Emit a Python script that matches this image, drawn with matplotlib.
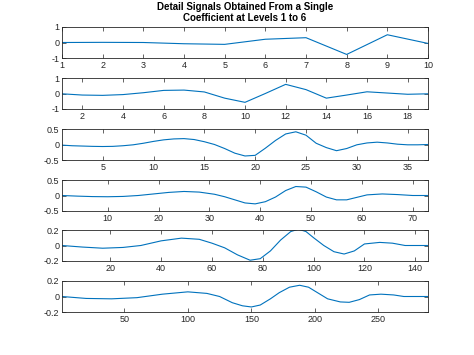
import matplotlib
matplotlib.use("Agg")
import matplotlib.pyplot as plt

# уровень 1 и 2 - все отсчёты
d1_y = [0.0, 0.01, 0.0, -0.08, -0.12, 0.21, 0.31, -0.77, 0.5, -0.06]
d2_y = [-0.02, -0.1, -0.12, -0.07, 0.05, 0.2, 0.22, 0.1, -0.3, -0.57,
        0.0, 0.59, 0.25, -0.3, -0.1, 0.11, 0.03, -0.05, -0.02]
# уровень 3 - все 37 отсчётов
d3_y = [-0.02, -0.04, -0.05, -0.06, -0.065, -0.06, -0.04, -0.01, 0.04, 0.1,
        0.15, 0.18, 0.19, 0.16, 0.09, 0.0, -0.13, -0.28, -0.37, -0.35,
        -0.12, 0.13, 0.34, 0.41, 0.3, 0.04, -0.1, -0.2, -0.13, -0.01,
        0.05, 0.075, 0.05, 0.01, -0.01, -0.01, 0.0]
# уровни 4-6 - опорные точки
d4_x = [1, 4, 7, 10, 13, 16, 19, 22, 25, 28, 31, 33, 35, 37, 39, 41, 43,
        45, 47, 49, 51, 53, 55, 57, 59, 61, 64, 67, 70, 73]
d4_y = [0.0, -0.02, -0.035, -0.04, -0.03, 0.0, 0.05, 0.1, 0.13, 0.11, 0.04,
        -0.04, -0.14, -0.24, -0.27, -0.2, -0.05, 0.16, 0.29, 0.27, 0.12, -0.05,
        -0.14, -0.14, -0.06, 0.02, 0.05, 0.03, 0.0, 0.0]
d5_x = [1, 9, 17, 25, 32, 40, 48, 55, 60, 65, 70, 75, 79, 83, 87, 91, 94,
        97, 100, 104, 108, 112, 116, 120, 126, 131, 136, 145]
d5_y = [0.0, -0.02, -0.035, -0.025, 0.0, 0.06, 0.095, 0.08, 0.03, -0.03,
        -0.12, -0.19, -0.17, -0.07, 0.07, 0.18, 0.21, 0.18, 0.1, 0.0, -0.08,
        -0.11, -0.07, 0.02, 0.04, 0.03, 0.0, 0.0]
d6_x = [1, 20, 40, 60, 80, 100, 115, 125, 135, 143, 150, 157, 165, 172, 180,
        188, 195, 203, 210, 220, 227, 235, 243, 252, 262, 270, 289]
d6_y = [0.0, -0.025, -0.03, -0.015, 0.03, 0.06, 0.04, 0.0, -0.08, -0.12,
        -0.135, -0.11, -0.03, 0.05, 0.12, 0.145, 0.12, 0.04, -0.03, -0.07,
        -0.075, -0.04, 0.02, 0.03, 0.02, 0.0, 0.0]

xs = [list(range(1, 11)), list(range(1, 20)), list(range(1, 38)), d4_x, d5_x, d6_x]
ys = [d1_y, d2_y, d3_y, d4_y, d5_y, d6_y]
xlims = [(1, 10), (1, 19), (1, 37), (1, 73), (1, 145), (1, 289)]
ylims = [(-1, 1), (-1, 1), (-0.5, 0.5), (-0.5, 0.5), (-0.2, 0.2), (-0.2, 0.2)]
xticks = [range(1, 11), range(2, 19, 2), range(5, 36, 5), range(10, 71, 10),
          range(20, 141, 20), range(50, 251, 50)]
yticks = [[-1, 0, 1], [-1, 0, 1], [-0.5, 0, 0.5], [-0.5, 0, 0.5],
          [-0.2, 0, 0.2], [-0.2, 0, 0.2]]
ylabels = [["-1", "0", "1"], ["-1", "0", "1"], ["-0.5", "0", "0.5"],
           ["-0.5", "0", "0.5"], ["-0.2", "0", "0.2"], ["-0.2", "0", "0.2"]]

plt.rcParams['font.family'] = ['Liberation Sans', 'DejaVu Sans']
W, H = 474, 355
fig = plt.figure(figsize=(W / 100, H / 100), dpi=100)
gray = '#262626'
tops = [27, 78, 129, 180, 230, 281]  # верх осей в пикселях
for i in range(6):
    ax = fig.add_axes([62 / W, 1 - (tops[i] + 31) / H, 366 / W, 31 / H])
    ax.plot(xs[i], ys[i], color='#0072BD', lw=0.8)
    ax.set_xlim(*xlims[i])
    ax.set_ylim(*ylims[i])
    ax.set_xticks(list(xticks[i]))
    ax.set_yticks(yticks[i])
    ax.set_yticklabels(ylabels[i])
    ax.tick_params(direction='in', top=True, right=True, length=2.6, width=0.5,
                   labelsize=6.5, colors=gray, pad=2)
    for s in ax.spines.values():
        s.set_color(gray)
        s.set_linewidth(0.6)
    if i == 0:
        ax.set_title("Detail Signals Obtained From a Single\nCoefficient at Levels 1 to 6",
                     fontsize=7.0, fontweight='bold', color='#000000', pad=4,
                     linespacing=1.15)

fig.savefig('out.png', dpi=100)
